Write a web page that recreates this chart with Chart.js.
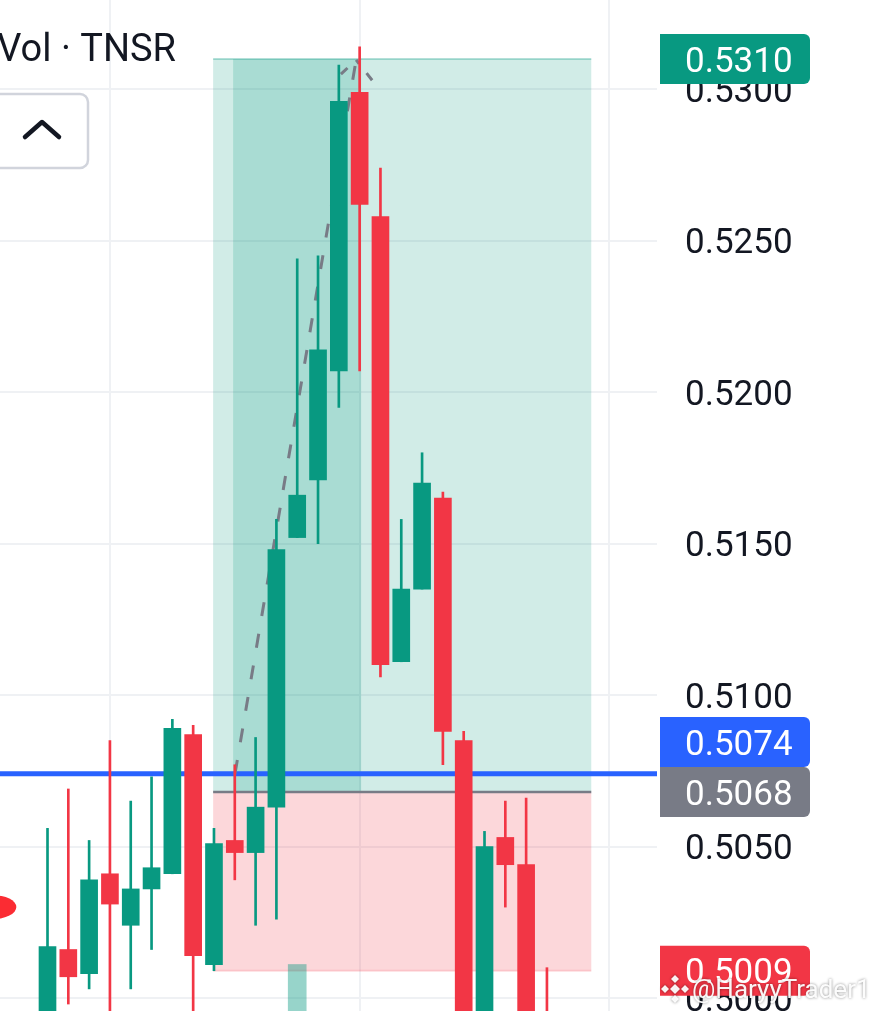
<!DOCTYPE html>
<html>
<head>
<meta charset="utf-8">
<script src="https://cdn.jsdelivr.net/npm/chart.js@4.4.1/dist/chart.umd.min.js"></script>
<style>
  html, body { margin: 0; padding: 0; background: #fff; overflow: hidden; }
  #chart { display: block; }
</style>
</head>
<body>
<canvas id="chart" width="879" height="1011"></canvas>
<script>
// TNSR candles (values below the crop are rough guesses)
const opens  = [0.4994, 0.5016, 0.5008, 0.5041, 0.5024, 0.5036, 0.5041, 0.5087, 0.5011, 0.5052, 0.5048, 0.5063, 0.5152, 0.5171, 0.5207, 0.5299, 0.5258, 0.5111, 0.5135, 0.5165, 0.5085, 0.4993, 0.5053, 0.5044, 0.4994];
const highs  = [0.5056, 0.5069, 0.5052, 0.5085, 0.5065, 0.5073, 0.5092, 0.5090, 0.5056, 0.5077, 0.5086, 0.5158, 0.5244, 0.5245, 0.5308, 0.5314, 0.5274, 0.5158, 0.5180, 0.5167, 0.5088, 0.5055, 0.5065, 0.5066, 0.5010];
const lows   = [0.4990, 0.4998, 0.5003, 0.4993, 0.5003, 0.5016, 0.5041, 0.4994, 0.5009, 0.5039, 0.5024, 0.5026, 0.5152, 0.5150, 0.5195, 0.5207, 0.5106, 0.5111, 0.5135, 0.5077, 0.4985, 0.4990, 0.5030, 0.4990, 0.4985];
const closes = [0.5017, 0.5007, 0.5039, 0.5031, 0.5036, 0.5043, 0.5089, 0.5014, 0.5051, 0.5048, 0.5063, 0.5148, 0.5166, 0.5214, 0.5296, 0.5262, 0.5110, 0.5135, 0.5170, 0.5088, 0.4993, 0.5050, 0.5044, 0.4994, 0.4990];
// only one volume bar pokes into the crop
const volumes = [null, null, null, null, null, null, null, null, null, null, null, null, 4.6, null, null, null, null, null, null, null, null, null, null, null, null];

const priceTicks = [0.5000, 0.5050, 0.5100, 0.5150, 0.5200, 0.5250, 0.5300];
const timeGridBars = [3, 15, 27];

// long position tool + horizontal line
const entryPrice = 0.5068;
const targetPrice = 0.5310;
const stopPrice = 0.5009;
const hLinePrice = 0.5074;

const UP = '#089981';
const DOWN = '#f23645';
const BLUE = '#2962ff';
const GREY = '#787b86';
const TEXT = '#131722';

// visible window of the chart
const yMin = 0.49957, yMax = 0.532948;
const xMin = -2.2826, xMax = 29.289;

// drawing-tool geometry, in bar index / price units
const zone = { from: 7.96, to: 26.13, activeFrom: 8.92, activeTo: 15.07 };
const arrow = { x0: 9.01, p0: 0.5074, x1: 14.83, p1: 0.53097, lx: 14.1, lp: 0.5305, rx: 15.6, rp: 0.5303 };
const marker = { x: -2.65, price: 0.5030 };

const idx = opens.map((_, i) => i);
const candleColors = idx.map(i => closes[i] >= opens[i] ? UP : DOWN);

const px = (chart, v) => chart.scales.x.getPixelForValue(v);
const py = (chart, v) => chart.scales.y.getPixelForValue(v);

const overlayPlugin = {
  id: 'overlay',
  beforeDatasetsDraw(chart) {
    const { ctx, chartArea: a } = chart;
    ctx.save();
    ctx.beginPath();
    ctx.rect(a.left, a.top, a.width, a.height);
    ctx.clip();

    const x0 = px(chart, zone.from), x1 = px(chart, zone.to);
    const xa = px(chart, zone.activeFrom), xb = px(chart, zone.activeTo);
    const yT = py(chart, targetPrice), yE = py(chart, entryPrice), yS = py(chart, stopPrice);

    // profit / loss areas
    ctx.fillStyle = 'rgba(8,153,129,0.19)';
    ctx.fillRect(x0, yT, x1 - x0, yE - yT);
    ctx.fillStyle = 'rgba(8,153,129,0.2)';
    ctx.fillRect(xa, yT, xb - xa, yE - yT);
    ctx.fillStyle = 'rgba(242,54,69,0.2)';
    ctx.fillRect(x0, yE, x1 - x0, yS - yE);

    ctx.lineWidth = 2;
    ctx.strokeStyle = 'rgba(8,153,129,0.3)';
    ctx.beginPath(); ctx.moveTo(x0, yT); ctx.lineTo(x1, yT); ctx.stroke();
    ctx.strokeStyle = 'rgba(242,54,69,0.18)';
    ctx.beginPath(); ctx.moveTo(x0, yS); ctx.lineTo(x1, yS); ctx.stroke();
    ctx.strokeStyle = GREY;
    ctx.lineWidth = 2.5;
    ctx.beginPath(); ctx.moveTo(x0, yE); ctx.lineTo(x1, yE); ctx.stroke();

    // blue horizontal line
    const yH = py(chart, hLinePrice);
    ctx.strokeStyle = BLUE;
    ctx.lineWidth = 5;
    ctx.beginPath(); ctx.moveTo(a.left, yH); ctx.lineTo(a.right, yH); ctx.stroke();

    // dashed arrow of the position
    ctx.strokeStyle = GREY;
    ctx.lineWidth = 3;
    ctx.setLineDash([14, 18]);
    const tx = px(chart, arrow.x1), ty = py(chart, arrow.p1);
    ctx.beginPath(); ctx.moveTo(px(chart, arrow.x0), py(chart, arrow.p0)); ctx.lineTo(tx, ty); ctx.stroke();
    ctx.setLineDash([9, 12]);
    ctx.beginPath(); ctx.moveTo(px(chart, arrow.lx), py(chart, arrow.lp)); ctx.lineTo(tx, ty); ctx.stroke();
    ctx.beginPath(); ctx.moveTo(px(chart, arrow.rx), py(chart, arrow.rp)); ctx.lineTo(tx, ty); ctx.stroke();
    ctx.setLineDash([]);

    // red marker at the left edge
    ctx.fillStyle = '#fb2c33';
    ctx.beginPath();
    ctx.ellipse(px(chart, marker.x), py(chart, marker.price), 24, 12, 0, 0, Math.PI * 2);
    ctx.fill();
    ctx.restore();
  },
  afterDraw(chart) {
    const { ctx } = chart;
    ctx.save();

    // title
    ctx.font = '38px Roboto';
    ctx.fillStyle = TEXT;
    ctx.textAlign = 'right';
    ctx.textBaseline = 'alphabetic';
    ctx.fillText('Vol · TNSR', 176, 61);

    // collapse button
    ctx.fillStyle = '#fff';
    ctx.strokeStyle = '#d1d4dc';
    ctx.lineWidth = 2.5;
    ctx.beginPath(); ctx.roundRect(-12, 94, 100, 74, 8); ctx.fill(); ctx.stroke();
    ctx.strokeStyle = TEXT;
    ctx.lineWidth = 4.5;
    ctx.lineCap = 'round';
    ctx.lineJoin = 'round';
    ctx.beginPath(); ctx.moveTo(25, 137); ctx.lineTo(42, 122); ctx.lineTo(59, 137); ctx.stroke();

    // price badges on the axis, pushed up when they overlap
    const badges = [
      { price: stopPrice, color: DOWN },
      { price: entryPrice, color: GREY },
      { price: hLinePrice, color: BLUE },
      { price: targetPrice, color: UP }
    ];
    let limit = Infinity;
    ctx.font = '35px Roboto';
    ctx.textAlign = 'left';
    ctx.textBaseline = 'middle';
    badges.forEach(b => {
      let cy = py(chart, b.price);
      if (cy + 25 > limit) cy = limit - 25;
      ctx.fillStyle = b.color;
      ctx.beginPath(); ctx.roundRect(660, cy - 25, 150, 50, [0, 6, 6, 0]); ctx.fill();
      ctx.fillStyle = '#fff';
      ctx.fillText(b.price.toFixed(4), 685, cy + 4);
      limit = cy - 25;
    });

    // watermark
    ctx.shadowColor = 'rgba(0,0,0,0.5)';
    ctx.shadowBlur = 3;
    ctx.fillStyle = 'rgba(255,255,255,0.95)';
    const lx = 675, ly = 989;
    [[0, 0, 5], [-10, 0, 4], [10, 0, 4], [0, -10, 4], [0, 10, 4]].forEach(([dx, dy, r]) => {
      ctx.beginPath();
      ctx.moveTo(lx + dx, ly + dy - r); ctx.lineTo(lx + dx + r, ly + dy);
      ctx.lineTo(lx + dx, ly + dy + r); ctx.lineTo(lx + dx - r, ly + dy);
      ctx.closePath(); ctx.fill();
    });
    ctx.font = '26px Roboto';
    ctx.textBaseline = 'alphabetic';
    ctx.fillText('@HaryyTrader1', 692, 998);
    ctx.restore();
  }
};

new Chart(document.getElementById('chart'), {
  type: 'bar',
  data: {
    datasets: [
      {
        label: 'body',
        data: idx.map(i => ({ x: i, y: [opens[i], closes[i]] })),
        backgroundColor: candleColors,
        grouped: false, barPercentage: 1, categoryPercentage: 1, maxBarThickness: 17,
        order: 0, clip: 0
      },
      {
        label: 'wick',
        data: idx.map(i => ({ x: i, y: [lows[i], highs[i]] })),
        backgroundColor: candleColors,
        grouped: false, barPercentage: 1, categoryPercentage: 1, maxBarThickness: 2,
        order: 1, clip: 0
      },
      {
        label: 'volume',
        yAxisID: 'yVol',
        data: idx.map(i => ({ x: i, y: volumes[i] })),
        backgroundColor: 'rgba(8,153,129,0.42)',
        grouped: false, barPercentage: 1, categoryPercentage: 1, maxBarThickness: 18,
        order: 2, clip: 0
      }
    ]
  },
  options: {
    responsive: false,
    animation: false,
    devicePixelRatio: 1,
    layout: { padding: 0, autoPadding: false },
    plugins: { legend: { display: false }, tooltip: { enabled: false } },
    scales: {
      x: {
        type: 'linear', min: xMin, max: xMax, offset: false,
        afterBuildTicks: s => { s.ticks = timeGridBars.map(v => ({ value: v })); },
        afterFit: s => { s.height = 0; s.paddingLeft = 0; s.paddingRight = 0; },
        ticks: { display: false },
        grid: { color: '#eff1f4', lineWidth: 2, drawTicks: false, offset: false },
        border: { display: false }
      },
      y: {
        position: 'right', min: yMin, max: yMax,
        afterBuildTicks: s => { s.ticks = priceTicks.map(v => ({ value: v })); },
        afterFit: s => { s.width = 222; s.paddingTop = 0; s.paddingBottom = 0; },
        ticks: {
          padding: 28, labelOffset: 4, color: TEXT,
          font: { family: 'Roboto', size: 35 },
          callback: v => v.toFixed(4)
        },
        grid: { color: '#eff1f4', lineWidth: 2, drawTicks: false },
        border: { display: false }
      },
      yVol: { display: false, min: 0, max: 100 }
    }
  },
  plugins: [overlayPlugin]
});
</script>
</body>
</html>
